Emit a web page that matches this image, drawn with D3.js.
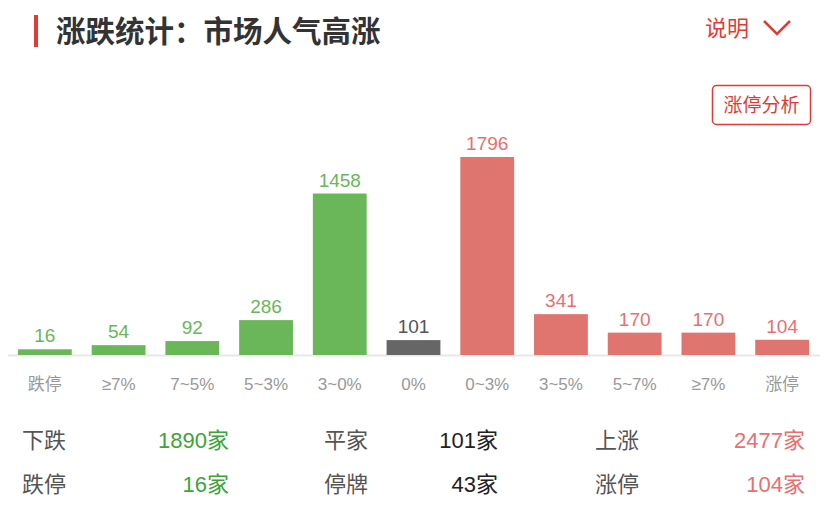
<!DOCTYPE html>
<html>
<head>
<meta charset="utf-8">
<script src="https://cdn.jsdelivr.net/npm/d3@7"></script>
<style>
  body { margin: 0; background: #fff; }
  svg { display: block; font-family: "Liberation Sans", "Noto Sans CJK SC", sans-serif; }
</style>
</head>
<body>
<div id="chart"></div>
<script>
const categories = ["跌停", "≥7%", "7~5%", "5~3%", "3~0%", "0%", "0~3%", "3~5%", "5~7%", "≥7%", "涨停"];
const counts = [16, 54, 92, 286, 1458, 101, 1796, 341, 170, 170, 104];
const kinds = ["down", "down", "down", "down", "down", "flat", "up", "up", "up", "up", "up"];

const summaryLabels = [["下跌", "平家", "上涨"], ["跌停", "停牌", "涨停"]];
const summaryValues = [["1890家", "101家", "2477家"], ["16家", "43家", "104家"]];
const summaryKinds = ["down", "flat", "up"];

const width = 828, height = 520;
const barColor = { down: "#6ab759", flat: "#666666", up: "#e07570" };
const textColor = { down: "#3fa33a", flat: "#222222", up: "#e87070" };
const labelColor = { down: "#6ab759", flat: "#555555", up: "#e87070" };

const svg = d3.select("#chart").append("svg")
  .attr("width", width)
  .attr("height", height);

// header
svg.append("rect").attr("x", 34).attr("y", 15).attr("width", 4).attr("height", 32).attr("fill", "#e03c35");
svg.append("text")
  .attr("x", 56).attr("y", 42)
  .attr("font-size", 29.5).attr("font-weight", "bold").attr("fill", "#333")
  .attr("font-family", "Noto Sans CJK SC")
  .text("涨跌统计：市场人气高涨");

svg.append("text")
  .attr("x", 705).attr("y", 36)
  .attr("font-size", 22).attr("fill", "#e03c35")
  .text("说明");
svg.append("path")
  .attr("d", "M764,21 L777,34 L790,21")
  .attr("fill", "none").attr("stroke", "#e03c35").attr("stroke-width", 2.5);

svg.append("rect")
  .attr("x", 712.5).attr("y", 85.5).attr("width", 98).attr("height", 39).attr("rx", 4)
  .attr("fill", "none").attr("stroke", "#e03c35").attr("stroke-width", 1.5);
svg.append("text")
  .attr("x", 761.5).attr("y", 112).attr("text-anchor", "middle")
  .attr("font-size", 19).attr("fill", "#e03c35")
  .text("涨停分析");

// chart
const baseline = 355;
const x = d3.scaleBand().domain(d3.range(categories.length)).range([8, 819]).paddingInner(0.27).paddingOuter(0.135);
const y = d3.scaleLinear().domain([0, d3.max(counts)]).range([baseline - 4, 157]);

svg.append("line")
  .attr("x1", 8).attr("x2", 820).attr("y1", baseline + 0.5).attr("y2", baseline + 0.5)
  .attr("stroke", "#e8e8e8").attr("stroke-width", 2);

svg.append("g").selectAll("rect")
  .data(counts)
  .join("rect")
  .attr("x", (d, i) => x(i))
  .attr("width", x.bandwidth())
  .attr("y", (d) => y(d))
  .attr("height", (d) => baseline - y(d))
  .attr("fill", (d, i) => barColor[kinds[i]]);

svg.append("g").selectAll("text")
  .data(counts)
  .join("text")
  .attr("x", (d, i) => x(i) + x.bandwidth() / 2)
  .attr("y", (d) => y(d) - 7)
  .attr("text-anchor", "middle")
  .attr("font-size", 19)
  .attr("fill", (d, i) => labelColor[kinds[i]])
  .text((d) => d);

svg.append("g").selectAll("text")
  .data(categories)
  .join("text")
  .attr("x", (d, i) => x(i) + x.bandwidth() / 2)
  .attr("y", 390)
  .attr("text-anchor", "middle")
  .attr("font-size", 17)
  .attr("fill", "#999")
  .text((d) => d);

// summary
const labelX = [22, 324, 595];
const valueX = [229, 498, 805];
const rowY = [448, 492];
summaryLabels.forEach((row, r) => {
  row.forEach((lab, c) => {
    svg.append("text")
      .attr("x", labelX[c]).attr("y", rowY[r])
      .attr("font-size", 22).attr("fill", "#555")
      .text(lab);
    svg.append("text")
      .attr("x", valueX[c]).attr("y", rowY[r])
      .attr("text-anchor", "end")
      .attr("font-size", 22).attr("fill", textColor[summaryKinds[c]])
      .text(summaryValues[r][c]);
  });
});
</script>
</body>
</html>
